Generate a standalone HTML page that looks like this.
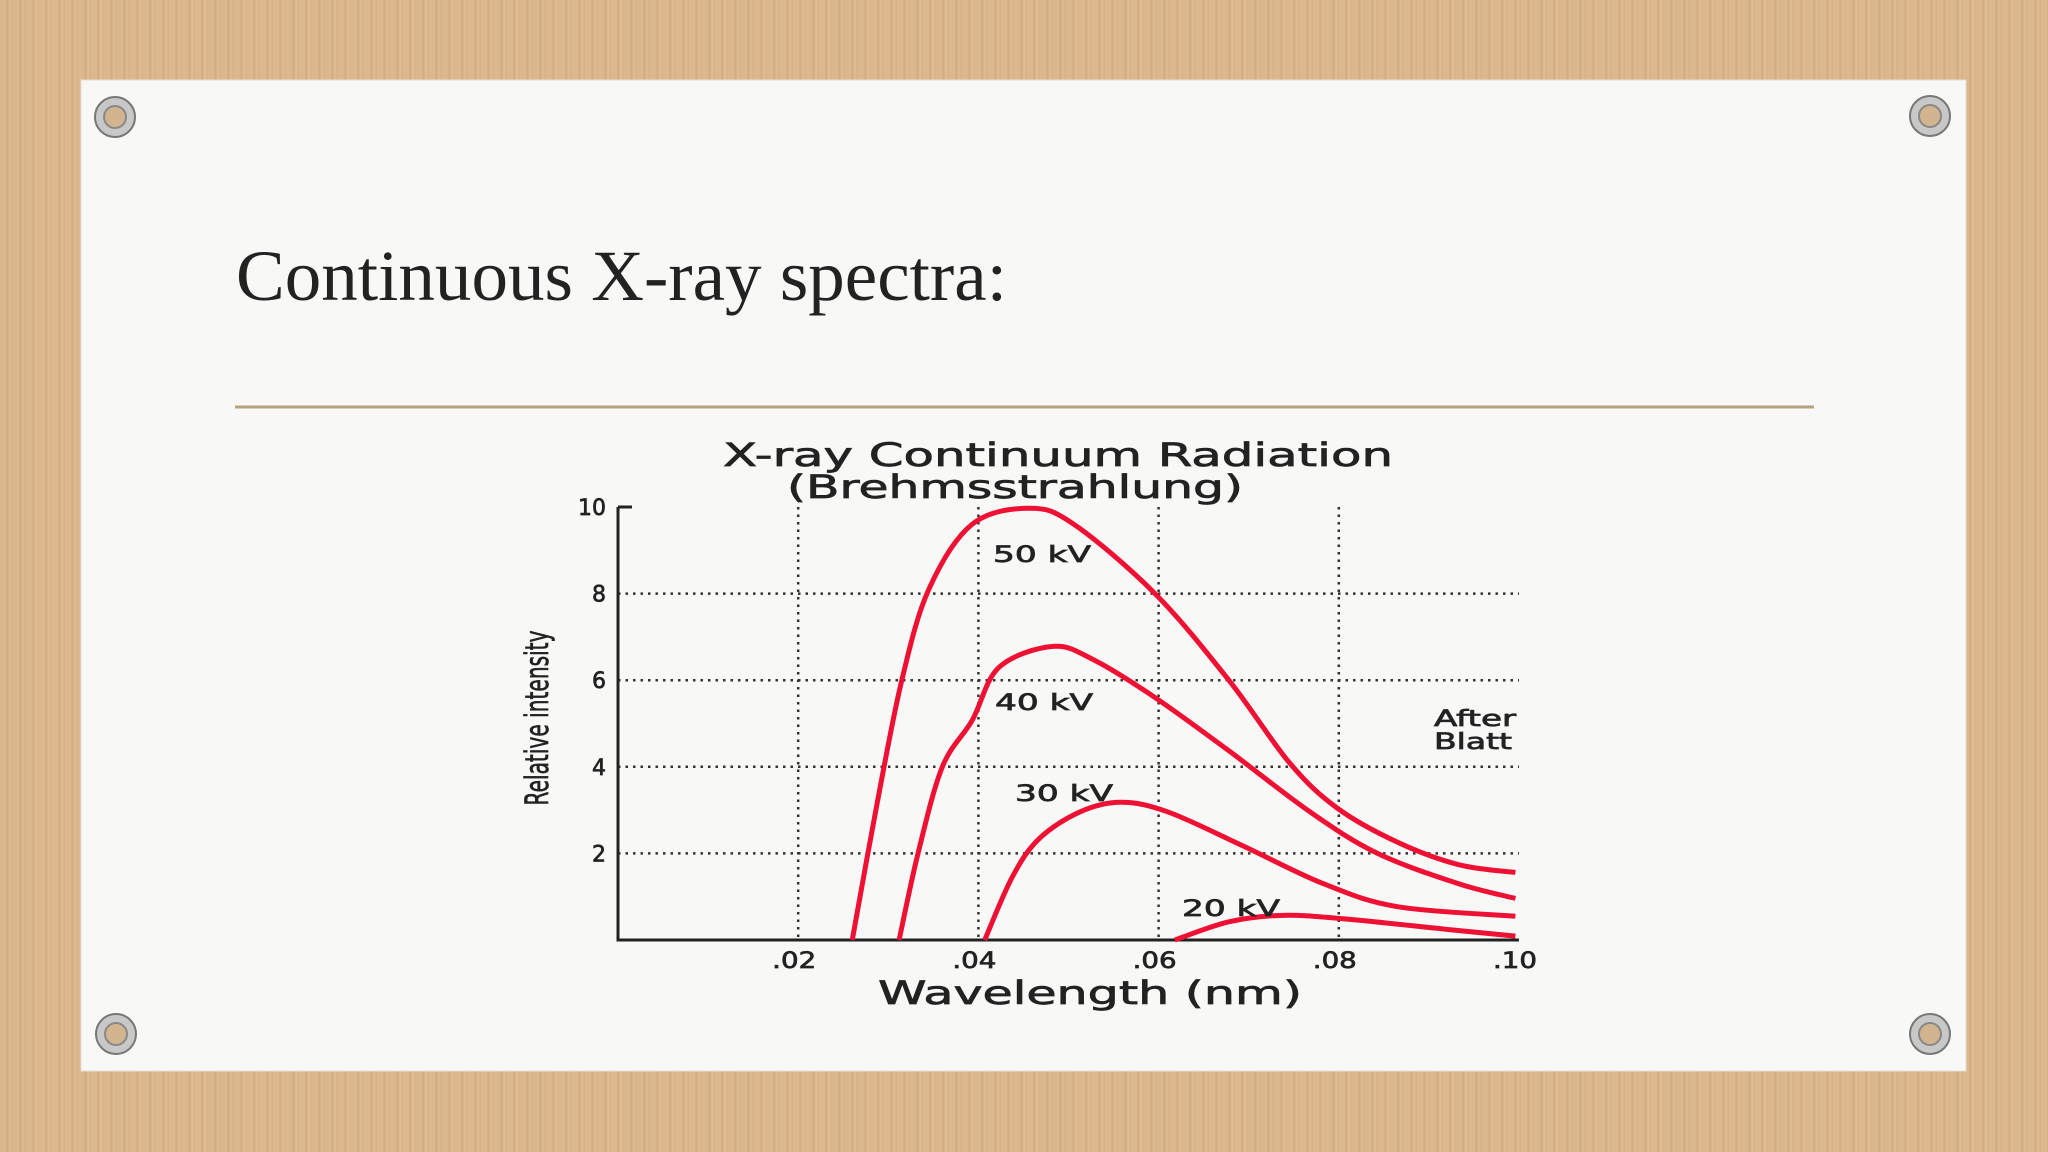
<!DOCTYPE html>
<html><head><meta charset="utf-8"><style>
html,body{margin:0;padding:0;width:2048px;height:1152px;overflow:hidden}
body{background:repeating-linear-gradient(90deg,#dcb88e 0px,#dcb88e 6px,#d0aa7e 7px,#e0bd94 10px,#d6b085 13px);}
</style></head><body>
<svg width="2048" height="1152" viewBox="0 0 2048 1152" xmlns="http://www.w3.org/2000/svg" style="position:absolute;left:0;top:0">
<rect x="81" y="80" width="1885" height="991" fill="#f8f8f7" stroke="#e6e0d6" stroke-width="1"/>
<g>
<g><circle cx="115" cy="117" r="20" fill="#c8c8c8" stroke="#777" stroke-width="2"/><circle cx="115" cy="117" r="11" fill="#d2b48e" stroke="#888" stroke-width="2"/></g>
<g><circle cx="1930" cy="116" r="20" fill="#c8c8c8" stroke="#777" stroke-width="2"/><circle cx="1930" cy="116" r="11" fill="#d2b48e" stroke="#888" stroke-width="2"/></g>
<g><circle cx="116" cy="1034" r="20" fill="#c8c8c8" stroke="#777" stroke-width="2"/><circle cx="116" cy="1034" r="11" fill="#d2b48e" stroke="#888" stroke-width="2"/></g>
<g><circle cx="1930" cy="1034" r="20" fill="#c8c8c8" stroke="#777" stroke-width="2"/><circle cx="1930" cy="1034" r="11" fill="#d2b48e" stroke="#888" stroke-width="2"/></g>
</g>
<text x="236" y="300" font-family="Liberation Serif, serif" font-size="72" fill="#222" textLength="771" lengthAdjust="spacingAndGlyphs">Continuous X-ray spectra:</text>
<line x1="235" y1="407" x2="1814" y2="407" stroke="#b5a47e" stroke-width="3"/>
<g id="chart" font-family="DejaVu Sans, sans-serif" fill="#222" stroke="#222" stroke-width="0.7"></g>
</svg>
<script>
const xTicks=[0.02,0.04,0.06,0.08,0.10];
const xTickLabels=['.02','.04','.06','.08','.10'];
const yTicks=[2,4,6,8,10];
const yTickLabels=['2','4','6','8','10'];
const seriesNames=['50 kV','40 kV','30 kV','20 kV'];
const x50=[0.026,0.0288,0.0315,0.0345,0.0393,0.0457,0.0506,0.0596,0.0678,0.0745,0.0798,0.0865,0.0933,0.0996];
const y50=[0,3.2,6.0,8.1,9.6,9.97,9.6,8.0,6.0,4.1,3.05,2.26,1.74,1.56];
const x40=[0.0312,0.0333,0.036,0.0393,0.0423,0.0483,0.0528,0.0596,0.0678,0.0768,0.0843,0.0933,0.0996];
const y40=[0,2.0,4.0,5.07,6.3,6.78,6.47,5.6,4.37,2.96,2.0,1.3,0.96];
const x30=[0.0407,0.0438,0.0468,0.0513,0.0558,0.061,0.0693,0.0783,0.0865,0.0996];
const y30=[0,1.47,2.35,2.96,3.18,2.96,2.18,1.3,0.77,0.55];
const x20=[0.0618,0.0678,0.0738,0.0805,0.0918,0.0996];
const y20=[0,0.42,0.57,0.49,0.25,0.09];
const NS='http://www.w3.org/2000/svg';
const g=document.getElementById('chart');
const X=v=>618+v/0.1*901;
const Y=v=>940-v/10*433;
function mk(t,a,p){const e=document.createElementNS(NS,t);for(const k in a)e.setAttribute(k,a[k]);(p||g).appendChild(e);return e;}
xTicks.slice(0,4).forEach((v,i)=>{const e=mk('line',{x1:X(v),x2:X(v),y1:Y(10),y2:Y(0),stroke:'#333','stroke-width':2.5,'stroke-dasharray':'2.5 5'});

});
yTicks.slice(0,4).forEach(v=>{const e=mk('line',{x1:X(0),x2:X(0.1),y1:Y(v),y2:Y(v),stroke:'#333','stroke-width':2.5,'stroke-dasharray':'2.5 5'});

});
let ax=mk('path',{d:`M${X(0)} ${Y(10)}V${Y(0)}H${X(0.1)}`,fill:'none',stroke:'#222','stroke-width':3});


mk('line',{x1:X(0),x2:X(0)+14,y1:Y(10),y2:Y(10),stroke:'#222','stroke-width':3});
yTicks.forEach((v,i)=>{const t=mk('text',{x:X(0)-12,y:Y(v)+8,'text-anchor':'end','font-size':22});t.textContent=yTickLabels[i];

});
xTicks.forEach((v,i)=>{const t=mk('text',{x:X(v)-4,y:968,'text-anchor':'middle','font-size':22,textLength:44,lengthAdjust:'spacingAndGlyphs'});t.textContent=xTickLabels[i];

});
const xs=[x50,x40,x30,x20],ys=[y50,y40,y30,y20];
function smooth(pts){let d=`M${pts[0][0]} ${pts[0][1]}`;for(let i=0;i<pts.length-1;i++){const p0=pts[i-1]||pts[i],p1=pts[i],p2=pts[i+1],p3=pts[i+2]||p2;
d+=`C${p1[0]+(p2[0]-p0[0])/6} ${p1[1]+(p2[1]-p0[1])/6} ${p2[0]-(p3[0]-p1[0])/6} ${p2[1]-(p3[1]-p1[1])/6} ${p2[0]} ${p2[1]}`;}return d;}
xs.forEach((arr,k)=>{const pts=arr.map((v,i)=>[X(v),Y(ys[k][i])]);
const p=mk('path',{d:smooth(pts),fill:'none',stroke:'#ee1133','stroke-width':5,'stroke-linejoin':'round'});

});
const labelPos=[[993,562],[995,710],[1015,801],[1182,916]];
seriesNames.forEach((n,i)=>{const t=mk('text',{x:labelPos[i][0],y:labelPos[i][1],'font-size':22,textLength:98,lengthAdjust:'spacingAndGlyphs'});t.textContent=n;

});
let t;
t=mk('text',{x:1434,y:726,'font-size':22,textLength:82,lengthAdjust:'spacingAndGlyphs'});t.textContent='After';


t=mk('text',{x:1434,y:749,'font-size':22,textLength:78,lengthAdjust:'spacingAndGlyphs'});t.textContent='Blatt';


t=mk('text',{x:1058,y:466,'text-anchor':'middle','font-size':32,textLength:670,lengthAdjust:'spacingAndGlyphs'});t.textContent='X-ray Continuum Radiation';


t=mk('text',{x:1015,y:498,'text-anchor':'middle','font-size':32,textLength:456,lengthAdjust:'spacingAndGlyphs'});t.textContent='(Brehmsstrahlung)';


t=mk('text',{x:1090,y:1004,'text-anchor':'middle','font-size':32,textLength:424,lengthAdjust:'spacingAndGlyphs'});t.textContent='Wavelength (nm)';


t=mk('text',{x:0,y:0,'text-anchor':'middle','font-size':32,textLength:175,lengthAdjust:'spacingAndGlyphs',transform:'translate(548,718) rotate(-90)'});t.textContent='Relative intensity';


</script>
</body></html>
